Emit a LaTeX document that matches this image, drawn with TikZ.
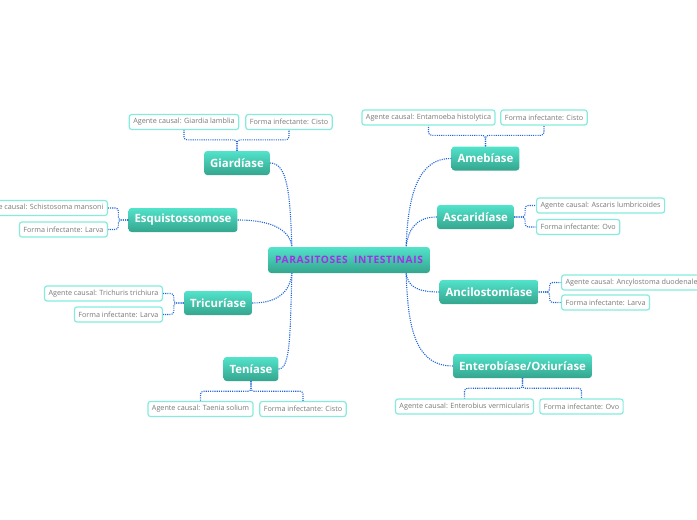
\documentclass[tikz,border=0pt]{standalone}
\usepackage{fontspec}
\setmainfont{Open Sans}
\usepackage{tikz}
\usetikzlibrary{positioning, calc}

\definecolor{topA}{HTML}{52E3CB}
\definecolor{topB}{HTML}{35A58E}
\definecolor{leafline}{HTML}{86EBDD}
\definecolor{leaftext}{HTML}{7A7A7A}
\definecolor{linkblue}{HTML}{1F66DC}
\definecolor{rootpurple}{HTML}{A22FE6}

\tikzset{
    topic/.style={top color=topA, bottom color=topB, rounded corners=3, minimum height=24,
        inner xsep=6, text=white, font=\fontsize{11.4}{12}\selectfont\bfseries},
    root/.style={topic, minimum height=26, inner xsep=7, text=rootpurple,
        font=\fontsize{10.2}{11}\selectfont\bfseries\addfontfeature{LetterSpace=6}},
    leaf/.style={draw=leafline, line width=1.2, fill=white, rounded corners=2.5, minimum height=15,
        inner xsep=4, inner ysep=0, text=leaftext, font=\fontsize{7.2}{8}\selectfont},
    link/.style={draw=linkblue, line width=1.1, dash pattern=on 1.1 off 1.1},
}

\begin{document}
\begin{tikzpicture}[x=1pt, y=-1pt]
    % Canvas
    \useasboundingbox (0,0) rectangle (697,520);

    % Root
    \node[root] (root) at (349,260) {PARASITOSES\ \ INTESTINAIS};
    \coordinate (lt) at ($(root.north west)+(24,0)$);
    \coordinate (lb) at ($(root.south west)+(24,0)$);
    \coordinate (rt) at ($(root.north east)+(-24,0)$);
    \coordinate (rb) at ($(root.south east)+(-24,0)$);

    % Topics (left)
    \node[topic] (gia) at (237,163) {Giardíase};
    \node[topic] (esq) at (183,220) {Esquistossomose};
    \node[topic] (tri) at (218,303) {Tricuríase};
    \node[topic] (ten) at (251,369) {Teníase};

    % Topics (right)
    \node[topic] (ame) at (485.5,158.5) {Amebíase};
    \node[topic] (asc) at (475.5,217) {Ascaridíase};
    \node[topic] (anc) at (489,292) {Ancilostomíase};
    \node[topic] (ent) at (522.5,366) {Enterobíase/Oxiuríase};

    % Leaves
    \node[leaf] (gia1) at (184,122) {Agente causal: Giardia lamblia};
    \node[leaf] (gia2) at (289,122) {Forma infectante: Cisto};
    \node[leaf, anchor=east] (esq1) at (108,208) {Agente causal: Schistosoma mansoni};
    \node[leaf, anchor=east] (esq2) at (108,229.5) {Forma infectante: Larva};
    \node[leaf, anchor=east] (tri1) at (163,293.5) {Agente causal: Trichuris trichiura};
    \node[leaf, anchor=east] (tri2) at (163,314.5) {Forma infectante: Larva};
    \node[leaf] (ten1) at (200.5,409) {Agente causal: Taenia solium};
    \node[leaf] (ten2) at (303,409) {Forma infectante: Cisto};
    \node[leaf] (ame1) at (428.5,117.5) {Agente causal: Entamoeba histolytica};
    \node[leaf] (ame2) at (544,117.5) {Forma infectante: Cisto};
    \node[leaf, anchor=west] (asc1) at (536,205.5) {Agente causal: Ascaris lumbricoides};
    \node[leaf, anchor=west] (asc2) at (536,227) {Forma infectante: Ovo};
    \node[leaf, anchor=west] (anc1) at (561,282.5) {Agente causal: Ancylostoma duodenale};
    \node[leaf, anchor=west] (anc2) at (561,302.5) {Forma infectante: Larva};
    \node[leaf] (ent1) at (464.5,406.5) {Agente causal: Enterobius vermicularis};
    \node[leaf] (ent2) at (581.5,406.5) {Forma infectante: Ovo};

    % Root to topics
    \draw[link] (gia.east) .. controls (288,163) and (290,195) .. (lt);
    \draw[link] (esq.east) .. controls (272,220) and (290,230) .. (lt);
    \draw[link] (tri.east) .. controls (280,303) and (290,290) .. (lb);
    \draw[link] (ten.east) .. controls (291,369) and (290,330) .. (lb);
    \draw[link] (ame.west) .. controls (418,158) and (408,195) .. (rt);
    \draw[link] (asc.west) .. controls (414,217) and (408,232) .. (rt);
    \draw[link] (anc.west) .. controls (416,292) and (408,286) .. (rb);
    \draw[link] (ent.west) .. controls (412,366) and (408,320) .. (rb);

    % Topics to leaves
    \draw[link, rounded corners=3] (gia.north) -- ++(0,-11) -| (gia1.south);
    \draw[link, rounded corners=3] (gia.north) -- ++(0,-11) -| (gia2.south);
    \draw[link, rounded corners=3] (esq.west) -- ++(-10,0) |- (esq1.east);
    \draw[link, rounded corners=3] (esq.west) -- ++(-10,0) |- (esq2.east);
    \draw[link, rounded corners=3] (tri.west) -- ++(-10,0) |- (tri1.east);
    \draw[link, rounded corners=3] (tri.west) -- ++(-10,0) |- (tri2.east);
    \draw[link, rounded corners=3] (ten.south) -- ++(0,10) -| (ten1.north);
    \draw[link, rounded corners=3] (ten.south) -- ++(0,10) -| (ten2.north);
    \draw[link, rounded corners=3] (ame.north) -- ++(0,-11) -| (ame1.south);
    \draw[link, rounded corners=3] (ame.north) -- ++(0,-11) -| (ame2.south);
    \draw[link, rounded corners=3] (asc.east) -- ++(11,0) |- (asc1.west);
    \draw[link, rounded corners=3] (asc.east) -- ++(11,0) |- (asc2.west);
    \draw[link, rounded corners=3] (anc.east) -- ++(11,0) |- (anc1.west);
    \draw[link, rounded corners=3] (anc.east) -- ++(11,0) |- (anc2.west);
    \draw[link, rounded corners=3] (ent.south) -- ++(0,10) -| (ent1.north);
    \draw[link, rounded corners=3] (ent.south) -- ++(0,10) -| (ent2.north);
\end{tikzpicture}
\end{document}
